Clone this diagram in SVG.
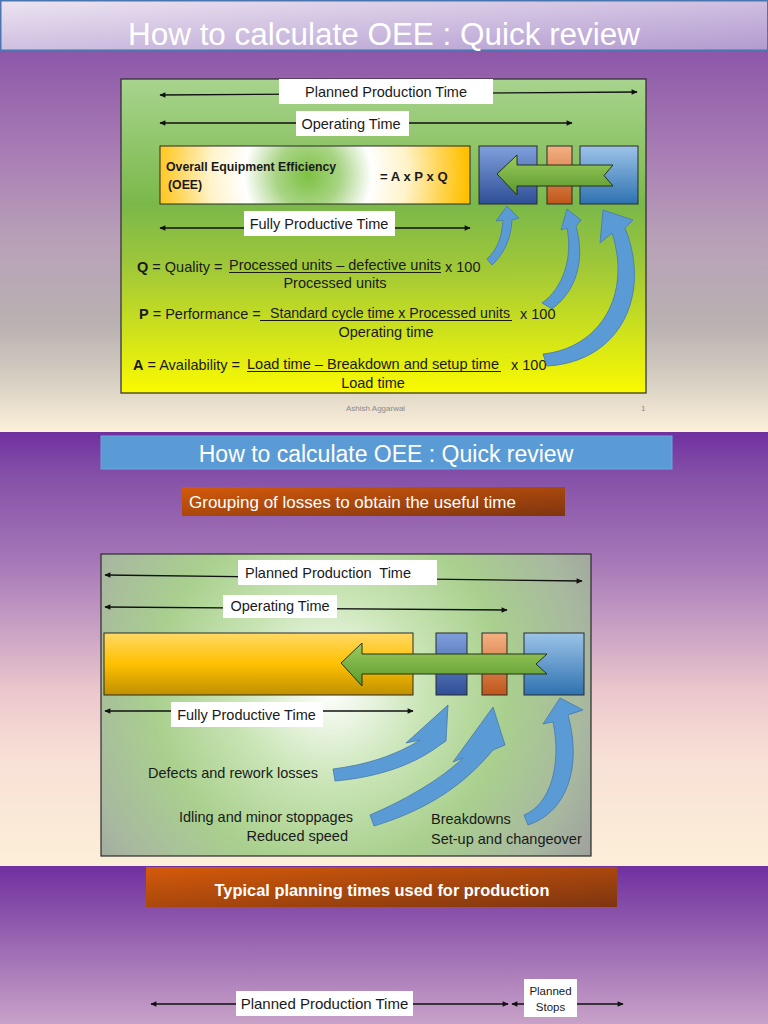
<svg xmlns="http://www.w3.org/2000/svg" width="768" height="1024" viewBox="0 0 768 1024">
<defs>
<style>
text{font-family:"Liberation Sans",Arial,sans-serif;fill:#1a1a1a}
.lbl{font-size:14.5px}
.w{fill:#ffffff}
.b{font-weight:bold}
.box{fill:#ffffff}
.ln{stroke:#111;stroke-width:1.3;fill:none}
.blk{stroke:#2b2b2b;stroke-width:1}
.curv{fill:#5b9bd5;stroke:#4677ad;stroke-width:0.8}
.garrow{fill:url(#gArrow);stroke:#24331a;stroke-width:1}
.ul{stroke:#1a1a1a;stroke-width:1.2}
.foot{font-size:8px;fill:#8a8a8a}
</style>
<marker id="ah" viewBox="0 0 10 10" refX="9" refY="5" markerWidth="7" markerHeight="6" markerUnits="userSpaceOnUse" orient="auto-start-reverse"><path d="M0,0.5 L10,5 L0,9.5 z" fill="#111"/></marker>
<linearGradient id="bg1" gradientUnits="userSpaceOnUse" x1="0" y1="0" x2="0" y2="432">
<stop offset="0" stop-color="#8450a6"/><stop offset="0.116" stop-color="#8d57a9"/><stop offset="0.35" stop-color="#a87cb4"/><stop offset="0.55" stop-color="#b8a0b8"/><stop offset="0.75" stop-color="#b9b1b1"/><stop offset="0.88" stop-color="#d6cfc2"/><stop offset="1" stop-color="#fdf1da"/>
</linearGradient>
<linearGradient id="bg2" gradientUnits="userSpaceOnUse" x1="0" y1="432" x2="0" y2="866">
<stop offset="0" stop-color="#7030a0"/><stop offset="0.1" stop-color="#8550a8"/><stop offset="0.3" stop-color="#a678b8"/><stop offset="0.45" stop-color="#c8a0c4"/><stop offset="0.6" stop-color="#ecc8cc"/><stop offset="0.75" stop-color="#f8e0d6"/><stop offset="1" stop-color="#fcefd8"/>
</linearGradient>
<linearGradient id="bg3" gradientUnits="userSpaceOnUse" x1="0" y1="866" x2="0" y2="1024">
<stop offset="0" stop-color="#7030a0"/><stop offset="0.3" stop-color="#8a52aa"/><stop offset="1" stop-color="#c8a2c8"/>
</linearGradient>
<linearGradient id="tbar" x1="0" y1="0" x2="1" y2="1">
<stop offset="0" stop-color="#ece4f1"/><stop offset="1" stop-color="#b29ad0"/>
</linearGradient>
<linearGradient id="panel1" x1="0" y1="0" x2="0" y2="1">
<stop offset="0" stop-color="#a8d48e"/><stop offset="0.4" stop-color="#7ab84a"/><stop offset="0.6" stop-color="#a0c838"/><stop offset="1" stop-color="#fafa00"/>
</linearGradient>
<radialGradient id="oee" gradientUnits="userSpaceOnUse" cx="308" cy="175" r="160">
<stop offset="0" stop-color="#7dc142"/><stop offset="0.2" stop-color="#a8d484"/><stop offset="0.4" stop-color="#ffffff"/><stop offset="0.62" stop-color="#fff3c8"/><stop offset="0.85" stop-color="#ffd24a"/><stop offset="1" stop-color="#ffc000"/>
</radialGradient>
<linearGradient id="blueDark" x1="0" y1="0" x2="0" y2="1">
<stop offset="0" stop-color="#7f9fdc"/><stop offset="1" stop-color="#2e4f96"/>
</linearGradient>
<linearGradient id="orangeBox" x1="0" y1="0" x2="0" y2="1">
<stop offset="0" stop-color="#f4b183"/><stop offset="1" stop-color="#c0561a"/>
</linearGradient>
<linearGradient id="lightBlue" x1="0" y1="0" x2="0" y2="1">
<stop offset="0" stop-color="#9cc3e8"/><stop offset="1" stop-color="#2e72b0"/>
</linearGradient>
<linearGradient id="gArrow" x1="0" y1="0" x2="0" y2="1">
<stop offset="0" stop-color="#9ccc5e"/><stop offset="1" stop-color="#5a982e"/>
</linearGradient>
<radialGradient id="panel2" gradientUnits="userSpaceOnUse" cx="330" cy="690" r="320">
<stop offset="0" stop-color="#ffffff"/><stop offset="0.3" stop-color="#c8e4b4"/><stop offset="0.55" stop-color="#a9d08e"/><stop offset="0.8" stop-color="#a8b8a0"/><stop offset="1" stop-color="#9c9c9c"/>
</radialGradient>
<linearGradient id="yellowBar" x1="0" y1="0" x2="0" y2="1">
<stop offset="0" stop-color="#ffd966"/><stop offset="0.5" stop-color="#ffc000"/><stop offset="1" stop-color="#bf9000"/>
</linearGradient>
<linearGradient id="banner" x1="0" y1="0" x2="1" y2="1">
<stop offset="0" stop-color="#d55a0a"/><stop offset="1" stop-color="#7e3510"/>
</linearGradient>
</defs>

<!-- backgrounds -->
<rect x="0" y="0" width="768" height="432" fill="url(#bg1)"/>
<rect x="0" y="432" width="768" height="434" fill="url(#bg2)"/>
<rect x="0" y="866" width="768" height="158" fill="url(#bg3)"/>

<!-- Slide 1 -->
<g id="s1-title">
<rect x="0.75" y="0.75" width="767" height="49.5" fill="url(#tbar)" stroke="#4a76b0" stroke-width="1.5"/>
<text x="384" y="45" text-anchor="middle" class="w" font-size="31" textLength="512" lengthAdjust="spacingAndGlyphs">How to calculate OEE : Quick review</text>
</g>
<g id="s1-panel">
<rect x="121" y="79" width="525" height="314" fill="url(#panel1)" stroke="#2b2b2b" stroke-width="1.2"/>
</g>
<g id="s1-oee">
<rect x="160" y="146" width="310" height="58" fill="url(#oee)" class="blk"/>
<text x="166" y="171" class="b" font-size="12.3">Overall Equipment Efficiency</text>
<text x="168" y="189" class="b" font-size="12.3">(OEE)</text>
<text x="380" y="181" class="b" font-size="13.1">= A x P x Q</text>
</g>
<g id="s1-box-a"><rect x="479" y="146" width="58" height="58" fill="url(#blueDark)" class="blk"/></g>
<g id="s1-box-p"><rect x="547" y="146" width="25" height="58" fill="url(#orangeBox)" class="blk"/></g>
<g id="s1-box-q"><rect x="580" y="146" width="58" height="58" fill="url(#lightBlue)" class="blk"/></g>

<g id="s1-formulas" font-size="14.5">
<text x="137" y="272" font-size="14.5"><tspan class="b">Q</tspan> = Quality =</text>
<text x="229" y="270" font-size="14.5" textLength="212" lengthAdjust="spacingAndGlyphs">Processed units – defective units</text>
<line x1="229" y1="272.5" x2="441" y2="272.5" class="ul"/>
<text x="445" y="272" font-size="14.5">x 100</text>
<text x="335" y="288" text-anchor="middle" font-size="14.5">Processed units</text>

<text x="139" y="319" font-size="14.5"><tspan class="b">P</tspan> = Performance =</text>
<text x="270" y="318" font-size="14.5" textLength="240" lengthAdjust="spacingAndGlyphs">Standard cycle time x Processed units</text>
<line x1="260" y1="320.5" x2="512" y2="320.5" class="ul"/>
<text x="520" y="319" font-size="14.5">x 100</text>
<text x="386" y="337" text-anchor="middle" font-size="14.5">Operating time</text>

<text x="133" y="370" font-size="14.5"><tspan class="b">A</tspan> = Availability =</text>
<text x="247" y="369" font-size="14.5" textLength="252" lengthAdjust="spacingAndGlyphs">Load time – Breakdown and setup time</text>
<line x1="247" y1="371.5" x2="501" y2="371.5" class="ul"/>
<text x="511" y="370" font-size="14.5">x 100</text>
<text x="373" y="388" text-anchor="middle" font-size="14.5">Load time</text>
</g>

<g id="s1-footer">
<text x="346" y="411" class="foot">Ashish Aggarwal</text>
<text x="641" y="411" class="foot">1</text>
</g>

<!-- Slide 2 -->
<g id="s2-title">
<rect x="101" y="436" width="571" height="33" fill="#5b9bd5" stroke="#6aa6dc" stroke-width="1"/>
<text x="386" y="462" text-anchor="middle" class="w" font-size="23">How to calculate OEE : Quick review</text>
</g>
<g id="s2-banner">
<rect x="182" y="487" width="383" height="29" fill="url(#banner)"/>
<text x="189" y="508" class="w" font-size="17">Grouping of losses to obtain the useful time</text>
</g>
<g id="s2-panel">
<rect x="101" y="554" width="490" height="302" fill="url(#panel2)" stroke="#2b2b2b" stroke-width="1.2"/>
</g>
<g id="s2-bar"><rect x="104" y="633" width="309" height="62" fill="url(#yellowBar)" class="blk"/></g>
<g id="s2-box-q"><rect x="436" y="633" width="31" height="62" fill="url(#blueDark)" class="blk"/></g>
<g id="s2-box-p"><rect x="482" y="633" width="25" height="62" fill="url(#orangeBox)" class="blk"/></g>
<g id="s2-box-a"><rect x="524" y="633" width="60" height="62" fill="url(#lightBlue)" class="blk"/></g>

<g id="s2-losses" font-size="14.5">
<text x="148" y="778" class="lbl">Defects and rework losses</text>
<text x="353" y="822" text-anchor="end" class="lbl">Idling and minor stoppages</text>
<text x="348" y="841" text-anchor="end" class="lbl">Reduced speed</text>
<text x="431" y="824" class="lbl">Breakdowns</text>
<text x="431" y="844" class="lbl">Set-up and changeover</text>
</g>

<!-- Slide 3 -->
<g id="s3-banner">
<rect x="146" y="867" width="471" height="40" fill="url(#banner)"/>
<text x="382" y="896" text-anchor="middle" class="w b" font-size="16.4">Typical planning times used for production</text>
</g>

<!-- connectors -->
<g id="connectors">
<line x1="160" y1="95" x2="637" y2="92" class="ln" marker-start="url(#ah)" marker-end="url(#ah)"/>
<line x1="160" y1="123" x2="572" y2="123" class="ln" marker-start="url(#ah)" marker-end="url(#ah)"/>
<line x1="160" y1="228" x2="470" y2="228" class="ln" marker-start="url(#ah)" marker-end="url(#ah)"/>
<path class="garrow" d="M497,174 L517,155 L517,165 L613,165 L604,175.5 L613,186 L517,186 L517,195 Z"/>
<path class="curv" d="M487,259 C497,250 502,237 503,220 L496,221 L507,206 L519,218 L512,220 C511,240 503,255 492,265 Z"/>
<path class="curv" d="M542,303 C563,288 573,258 567,228 L561,230 L567,209 L581,220 L576,226 C586,262 575,292 552,309 Z"/>
<path class="curv" d="M543,354 C600,348 632,295 612,233 L600,243 L603,210 L633,220 L625,228 C652,295 620,362 547,366 Z"/>

<line x1="105" y1="575" x2="582" y2="581" class="ln" marker-start="url(#ah)" marker-end="url(#ah)"/>
<line x1="105" y1="607" x2="507" y2="610" class="ln" marker-start="url(#ah)" marker-end="url(#ah)"/>
<line x1="105" y1="711" x2="413" y2="711" class="ln" marker-start="url(#ah)" marker-end="url(#ah)"/>
<path class="garrow" d="M341,663 L362,643 L362,654 L547,654 L536,664 L547,674 L362,674 L362,686 Z"/>
<path class="curv" d="M333,769 C365,765 395,756 420,740 L406,743 L448,705 L446,741 L440,745 C410,768 370,778 335,781 Z"/>
<path class="curv" d="M370,815 C405,800 440,780 463,758 L453,762 L493,707 L505,745 L493,750 C460,790 420,812 374,826 Z"/>
<path class="curv" d="M524,815 C550,805 562,765 553,722 L543,724 L560,698 L583,710 L568,715 C582,765 568,812 528,825 Z"/>

<line x1="151" y1="1004" x2="508" y2="1004" class="ln" marker-start="url(#ah)" marker-end="url(#ah)"/>
<line x1="512" y1="1004" x2="623" y2="1004" class="ln" marker-start="url(#ah)" marker-end="url(#ah)"/>
</g>

<!-- label nodes -->
<g id="s1-planned"><rect x="279" y="79" width="214" height="25" class="box"/><text x="386" y="97" text-anchor="middle" class="lbl">Planned Production Time</text></g>
<g id="s1-operating"><rect x="296" y="111" width="113" height="25" class="box"/><text x="351" y="129" text-anchor="middle" class="lbl">Operating Time</text></g>
<g id="s1-fully"><rect x="244" y="211" width="151" height="25" class="box"/><text x="319" y="229" text-anchor="middle" class="lbl">Fully Productive Time</text></g>

<g id="s2-planned"><rect x="238" y="560" width="199" height="25" class="box"/><text x="328" y="578" text-anchor="middle" class="lbl" xml:space="preserve">Planned Production  Time</text></g>
<g id="s2-operating"><rect x="223" y="595" width="114" height="23" class="box"/><text x="280" y="611" text-anchor="middle" class="lbl">Operating Time</text></g>
<g id="s2-fully"><rect x="171" y="702" width="152" height="25" class="box"/><text x="246.5" y="720" text-anchor="middle" class="lbl">Fully Productive Time</text></g>

<g id="s3-planned"><rect x="236" y="991" width="177" height="25" class="box"/><text x="324.5" y="1009" text-anchor="middle" font-size="15">Planned Production Time</text></g>
<g id="s3-stops"><rect x="524" y="979" width="53" height="38" class="box"/><text x="550.5" y="995" text-anchor="middle" font-size="11.5">Planned</text><text x="550.5" y="1011" text-anchor="middle" font-size="11.5">Stops</text></g>
</svg>
